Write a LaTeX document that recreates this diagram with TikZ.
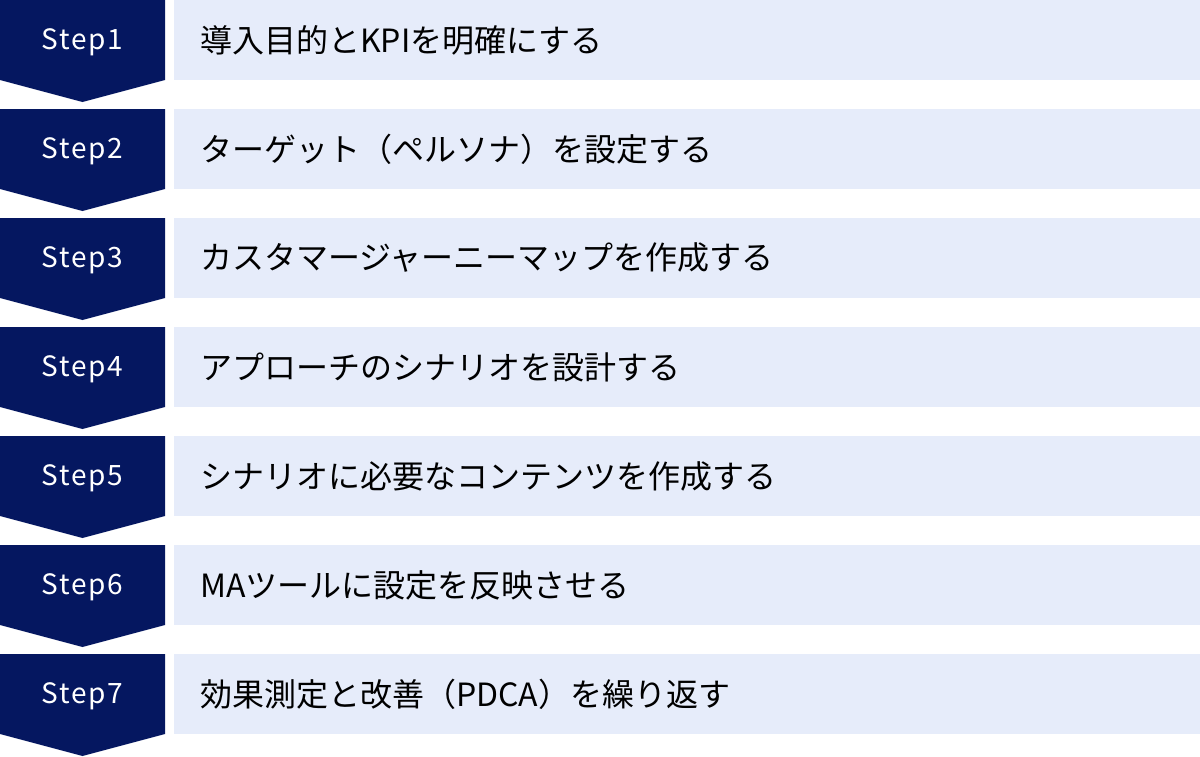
\documentclass[tikz,border=0pt]{standalone}
\usepackage{fontspec}
\setmainfont{Noto Sans CJK JP}
\definecolor{navy}{HTML}{051760}
\definecolor{pale}{HTML}{E6ECFA}
\begin{document}
\begin{tikzpicture}[
        x=1pt, y=-1pt,
        chevron/.style = {fill=navy},
        steplabel/.style = {text=white, font=\fontsize{28}{28}\selectfont, inner sep=0pt},
        taskbox/.style = {fill=pale, minimum width=1026pt, minimum height=80pt, inner sep=0pt, anchor=north west},
        tasktext/.style = {font=\fontsize{32}{32}\selectfont, anchor=west, inner sep=0pt}
    ]
        \useasboundingbox (0,0) rectangle (1200,756);
        \foreach \n/\task in {1/導入目的とKPIを明確にする,
                              2/ターゲット（ペルソナ）を設定する,
                              3/カスタマージャーニーマップを作成する,
                              4/アプローチのシナリオを設計する,
                              5/シナリオに必要なコンテンツを作成する,
                              6/MAツールに設定を反映させる,
                              7/効果測定と改善（PDCA）を繰り返す} {
            \pgfmathsetmacro{\top}{(\n-1)*109}
            \fill[chevron] (0,\top) -- ++(165,0) -- ++(0,80) -- ++(-82.5,22) -- ++(-82.5,-22) -- cycle;
            \node[steplabel] (step\n) at (82.5,\top+42) {\addfontfeature{LetterSpace=6}Step\n};
            \node[taskbox] (box\n) at (174,\top) {};
            \node[tasktext] (task\n) at (200,\top+40) {\task};
        }
    \end{tikzpicture}
\end{document}
